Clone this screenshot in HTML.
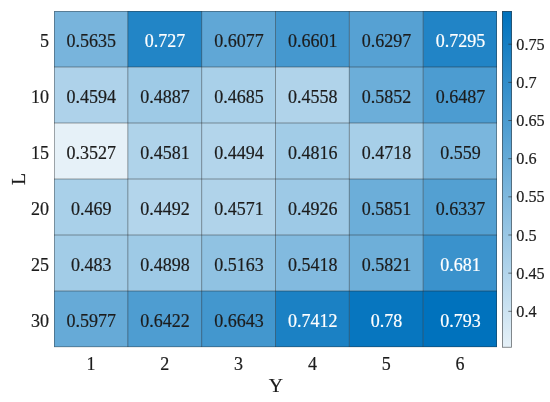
<!DOCTYPE html>
<html><head><meta charset="utf-8"><title>Heatmap</title>
<style>
html,body{margin:0;padding:0;background:#fff;}
body{width:550px;height:402px;overflow:hidden;}
svg{display:block;}
text{font-family:"Liberation Serif","Times New Roman",serif;}
.c{font-size:18px;text-anchor:middle;}
.d{fill:#1c1c1c;stroke:#1c1c1c;stroke-width:0.2px;}
.w{fill:#ffffff;stroke:#ffffff;stroke-width:0.2px;}
.yt{font-size:18px;text-anchor:end;fill:#1c1c1c;stroke:#1c1c1c;stroke-width:0.2px;}
.xt{font-size:18px;text-anchor:middle;fill:#1c1c1c;stroke:#1c1c1c;stroke-width:0.2px;}
.cb{font-size:16.2px;text-anchor:start;fill:#1c1c1c;stroke:#1c1c1c;stroke-width:0.18px;}
.lab{font-size:19.8px;text-anchor:middle;fill:#1c1c1c;stroke:#1c1c1c;stroke-width:0.2px;}
</style></head><body>
<svg width="550" height="402" viewBox="0 0 550 402">
<defs><linearGradient id="g" x1="0" y1="1" x2="0" y2="0">
<stop offset="0" stop-color="#e6f1f8"/><stop offset="1" stop-color="#0072bd"/>
</linearGradient></defs>
<rect x="0" y="0" width="550" height="402" fill="#ffffff"/>
<rect x="54.00" y="11.00" width="74.13" height="56.30" fill="#78b4dc"/>
<rect x="127.83" y="11.00" width="74.13" height="56.30" fill="#2285c6"/>
<rect x="201.67" y="11.00" width="74.13" height="56.30" fill="#60a7d6"/>
<rect x="275.50" y="11.00" width="74.13" height="56.30" fill="#4598cf"/>
<rect x="349.33" y="11.00" width="74.13" height="56.30" fill="#56a1d3"/>
<rect x="423.17" y="11.00" width="73.83" height="56.30" fill="#2184c6"/>
<rect x="54.00" y="67.00" width="74.13" height="56.30" fill="#aed2ea"/>
<rect x="127.83" y="67.00" width="74.13" height="56.30" fill="#9ecae6"/>
<rect x="201.67" y="67.00" width="74.13" height="56.30" fill="#a9d0e9"/>
<rect x="275.50" y="67.00" width="74.13" height="56.30" fill="#b0d3ea"/>
<rect x="349.33" y="67.00" width="74.13" height="56.30" fill="#6caed9"/>
<rect x="423.17" y="67.00" width="73.83" height="56.30" fill="#4c9cd1"/>
<rect x="54.00" y="123.00" width="74.13" height="56.30" fill="#e6f1f8"/>
<rect x="127.83" y="123.00" width="74.13" height="56.30" fill="#afd3ea"/>
<rect x="201.67" y="123.00" width="74.13" height="56.30" fill="#b3d5eb"/>
<rect x="275.50" y="123.00" width="74.13" height="56.30" fill="#a2cce7"/>
<rect x="349.33" y="123.00" width="74.13" height="56.30" fill="#a7cfe8"/>
<rect x="423.17" y="123.00" width="73.83" height="56.30" fill="#7ab6dd"/>
<rect x="54.00" y="179.00" width="74.13" height="56.30" fill="#a9d0e9"/>
<rect x="127.83" y="179.00" width="74.13" height="56.30" fill="#b3d5eb"/>
<rect x="201.67" y="179.00" width="74.13" height="56.30" fill="#b0d3ea"/>
<rect x="275.50" y="179.00" width="74.13" height="56.30" fill="#9dc9e6"/>
<rect x="349.33" y="179.00" width="74.13" height="56.30" fill="#6caed9"/>
<rect x="423.17" y="179.00" width="73.83" height="56.30" fill="#53a0d2"/>
<rect x="54.00" y="235.00" width="74.13" height="56.30" fill="#a2cce7"/>
<rect x="127.83" y="235.00" width="74.13" height="56.30" fill="#9ecae6"/>
<rect x="201.67" y="235.00" width="74.13" height="56.30" fill="#90c2e2"/>
<rect x="275.50" y="235.00" width="74.13" height="56.30" fill="#82badf"/>
<rect x="349.33" y="235.00" width="74.13" height="56.30" fill="#6eafd9"/>
<rect x="423.17" y="235.00" width="73.83" height="56.30" fill="#3a92cc"/>
<rect x="54.00" y="291.00" width="74.13" height="56.00" fill="#66aad7"/>
<rect x="127.83" y="291.00" width="74.13" height="56.00" fill="#4e9dd1"/>
<rect x="201.67" y="291.00" width="74.13" height="56.00" fill="#4397ce"/>
<rect x="275.50" y="291.00" width="74.13" height="56.00" fill="#1b81c4"/>
<rect x="349.33" y="291.00" width="74.13" height="56.00" fill="#0776bf"/>
<rect x="423.17" y="291.00" width="73.83" height="56.00" fill="#0072bd"/>
<g stroke="#262626" stroke-opacity="0.55" stroke-width="0.8" fill="none">
<rect x="54.4" y="11.4" width="442.2" height="335.4" stroke-opacity="0.48"/>
<line x1="127.83" y1="11.00" x2="127.83" y2="347.00"/>
<line x1="54.00" y1="67.00" x2="497.00" y2="67.00"/>
<line x1="201.67" y1="11.00" x2="201.67" y2="347.00"/>
<line x1="54.00" y1="123.00" x2="497.00" y2="123.00"/>
<line x1="275.50" y1="11.00" x2="275.50" y2="347.00"/>
<line x1="54.00" y1="179.00" x2="497.00" y2="179.00"/>
<line x1="349.33" y1="11.00" x2="349.33" y2="347.00"/>
<line x1="54.00" y1="235.00" x2="497.00" y2="235.00"/>
<line x1="423.17" y1="11.00" x2="423.17" y2="347.00"/>
<line x1="54.00" y1="291.00" x2="497.00" y2="291.00"/>
</g>
<text class="c d" x="91.22" y="46.70">0.5635</text>
<text class="c w" x="165.05" y="46.70">0.727</text>
<text class="c d" x="238.88" y="46.70">0.6077</text>
<text class="c d" x="312.72" y="46.70">0.6601</text>
<text class="c d" x="386.55" y="46.70">0.6297</text>
<text class="c w" x="460.38" y="46.70">0.7295</text>
<text class="c d" x="91.22" y="102.70">0.4594</text>
<text class="c d" x="165.05" y="102.70">0.4887</text>
<text class="c d" x="238.88" y="102.70">0.4685</text>
<text class="c d" x="312.72" y="102.70">0.4558</text>
<text class="c d" x="386.55" y="102.70">0.5852</text>
<text class="c d" x="460.38" y="102.70">0.6487</text>
<text class="c d" x="91.22" y="158.70">0.3527</text>
<text class="c d" x="165.05" y="158.70">0.4581</text>
<text class="c d" x="238.88" y="158.70">0.4494</text>
<text class="c d" x="312.72" y="158.70">0.4816</text>
<text class="c d" x="386.55" y="158.70">0.4718</text>
<text class="c d" x="460.38" y="158.70">0.559</text>
<text class="c d" x="91.22" y="214.70">0.469</text>
<text class="c d" x="165.05" y="214.70">0.4492</text>
<text class="c d" x="238.88" y="214.70">0.4571</text>
<text class="c d" x="312.72" y="214.70">0.4926</text>
<text class="c d" x="386.55" y="214.70">0.5851</text>
<text class="c d" x="460.38" y="214.70">0.6337</text>
<text class="c d" x="91.22" y="270.70">0.483</text>
<text class="c d" x="165.05" y="270.70">0.4898</text>
<text class="c d" x="238.88" y="270.70">0.5163</text>
<text class="c d" x="312.72" y="270.70">0.5418</text>
<text class="c d" x="386.55" y="270.70">0.5821</text>
<text class="c w" x="460.38" y="270.70">0.681</text>
<text class="c d" x="91.22" y="326.70">0.5977</text>
<text class="c d" x="165.05" y="326.70">0.6422</text>
<text class="c d" x="238.88" y="326.70">0.6643</text>
<text class="c w" x="312.72" y="326.70">0.7412</text>
<text class="c w" x="386.55" y="326.70">0.78</text>
<text class="c w" x="460.38" y="326.70">0.793</text>
<text class="yt" x="49" y="46.70">5</text>
<text class="yt" x="49" y="102.70">10</text>
<text class="yt" x="49" y="158.70">15</text>
<text class="yt" x="49" y="214.70">20</text>
<text class="yt" x="49" y="270.70">25</text>
<text class="yt" x="49" y="326.70">30</text>
<text class="xt" x="90.92" y="369.7">1</text>
<text class="xt" x="164.75" y="369.7">2</text>
<text class="xt" x="238.58" y="369.7">3</text>
<text class="xt" x="312.42" y="369.7">4</text>
<text class="xt" x="386.25" y="369.7">5</text>
<text class="xt" x="460.08" y="369.7">6</text>
<text class="lab" x="275.8" y="392.1">Y</text>
<text class="lab" transform="translate(25.1,178.9) rotate(-90)" x="0" y="0">L</text>
<rect x="502" y="11" width="10" height="336.6" fill="url(#g)"/><rect x="502.45" y="11.45" width="9.1" height="335.8" fill="none" stroke="#3a3a3a" stroke-opacity="0.7" stroke-width="0.8"/>
<line x1="508.3" y1="311.30" x2="511.8" y2="311.30" stroke="#262626" stroke-opacity="0.75" stroke-width="0.8"/>
<text class="cb" x="516.3" y="316.90">0.4</text>
<line x1="508.3" y1="273.15" x2="511.8" y2="273.15" stroke="#262626" stroke-opacity="0.75" stroke-width="0.8"/>
<text class="cb" x="516.3" y="278.75">0.45</text>
<line x1="508.3" y1="234.99" x2="511.8" y2="234.99" stroke="#262626" stroke-opacity="0.75" stroke-width="0.8"/>
<text class="cb" x="516.3" y="240.59">0.5</text>
<line x1="508.3" y1="196.84" x2="511.8" y2="196.84" stroke="#262626" stroke-opacity="0.75" stroke-width="0.8"/>
<text class="cb" x="516.3" y="202.44">0.55</text>
<line x1="508.3" y1="158.68" x2="511.8" y2="158.68" stroke="#262626" stroke-opacity="0.75" stroke-width="0.8"/>
<text class="cb" x="516.3" y="164.28">0.6</text>
<line x1="508.3" y1="120.53" x2="511.8" y2="120.53" stroke="#262626" stroke-opacity="0.75" stroke-width="0.8"/>
<text class="cb" x="516.3" y="126.13">0.65</text>
<line x1="508.3" y1="82.37" x2="511.8" y2="82.37" stroke="#262626" stroke-opacity="0.75" stroke-width="0.8"/>
<text class="cb" x="516.3" y="87.97">0.7</text>
<line x1="508.3" y1="44.21" x2="511.8" y2="44.21" stroke="#262626" stroke-opacity="0.75" stroke-width="0.8"/>
<text class="cb" x="516.3" y="49.81">0.75</text>
</svg></body></html>
